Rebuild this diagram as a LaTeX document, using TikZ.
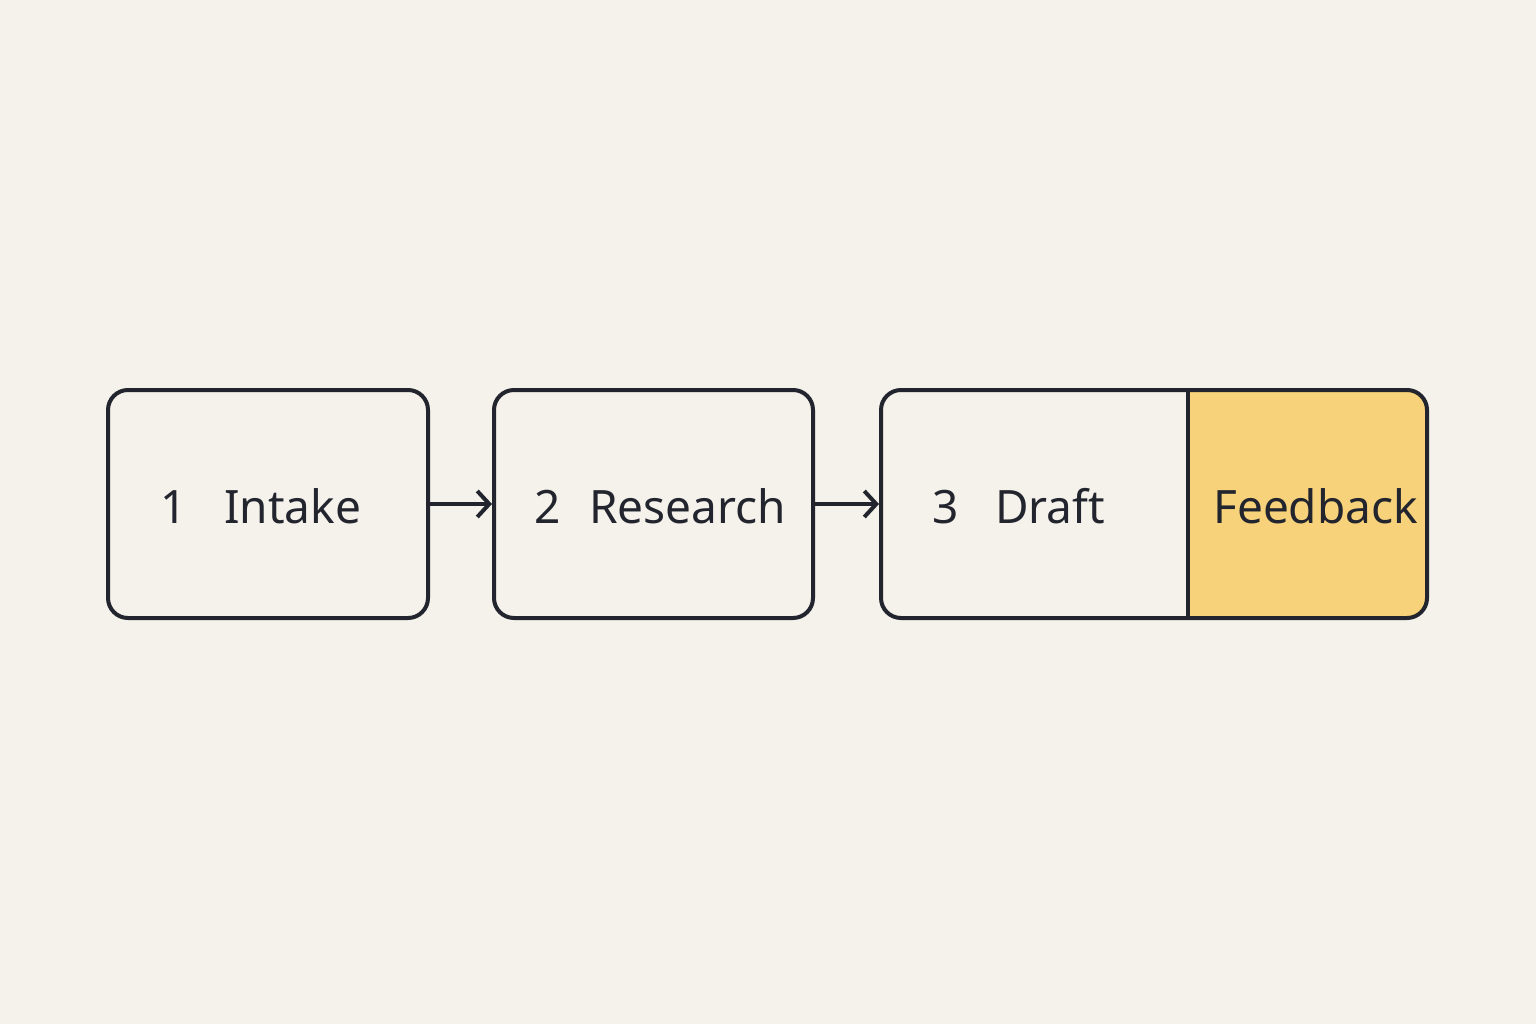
\documentclass[tikz,border=0pt]{standalone}
\usepackage{fontspec}
\setmainfont{Noto Sans}
\begin{document}
\begin{tikzpicture}[x=1pt,y=-1pt,
  box/.style={draw=ink,line width=4pt,rounded corners=20pt},
  lbl/.style={font=\fontsize{46}{50}\selectfont,text=ink,anchor=base west,inner sep=0},
  arr/.style={draw=ink,line width=4pt,-{Straight Barb[length=12pt,width=26pt]}}]
\definecolor{ink}{HTML}{22252E}
\definecolor{bg}{HTML}{F5F1EB}
\definecolor{hl}{HTML}{F8D27A}
\usetikzlibrary{arrows.meta}
\fill[bg] (0,0) rectangle (1536,1024);
\useasboundingbox (0,0) rectangle (1536,1024);
\begin{scope}
\clip[rounded corners=20pt] (881,390) rectangle (1427,618);
\fill[hl] (1188,390) rectangle (1427,618);
\end{scope}
\node[box,minimum width=320pt,minimum height=228pt,inner sep=0] (b1) at (268,504) {};
\node[box,minimum width=319pt,minimum height=228pt,inner sep=0] (b2) at (653.5,504) {};
\node[box,minimum width=546pt,minimum height=228pt,inner sep=0] (b3) at (1154,504) {};
\draw[draw=ink,line width=4pt] (1188,390) -- (1188,618);
\node[lbl] (n1) at (160,523) {1};
\node[lbl] (t1) at (224,523) {Intake};
\node[lbl] (n2) at (534,523) {2};
\node[lbl] (t2) at (589,523) {Research};
\node[lbl] (n3) at (932,523) {3};
\node[lbl] (t3) at (995,523) {Draft};
\node[lbl] (t4) at (1213,523) {Feedback};
\draw[arr] (b1.east) -- (b2.west);
\draw[arr] (b2.east) -- (b3.west);
\end{tikzpicture}
\end{document}
